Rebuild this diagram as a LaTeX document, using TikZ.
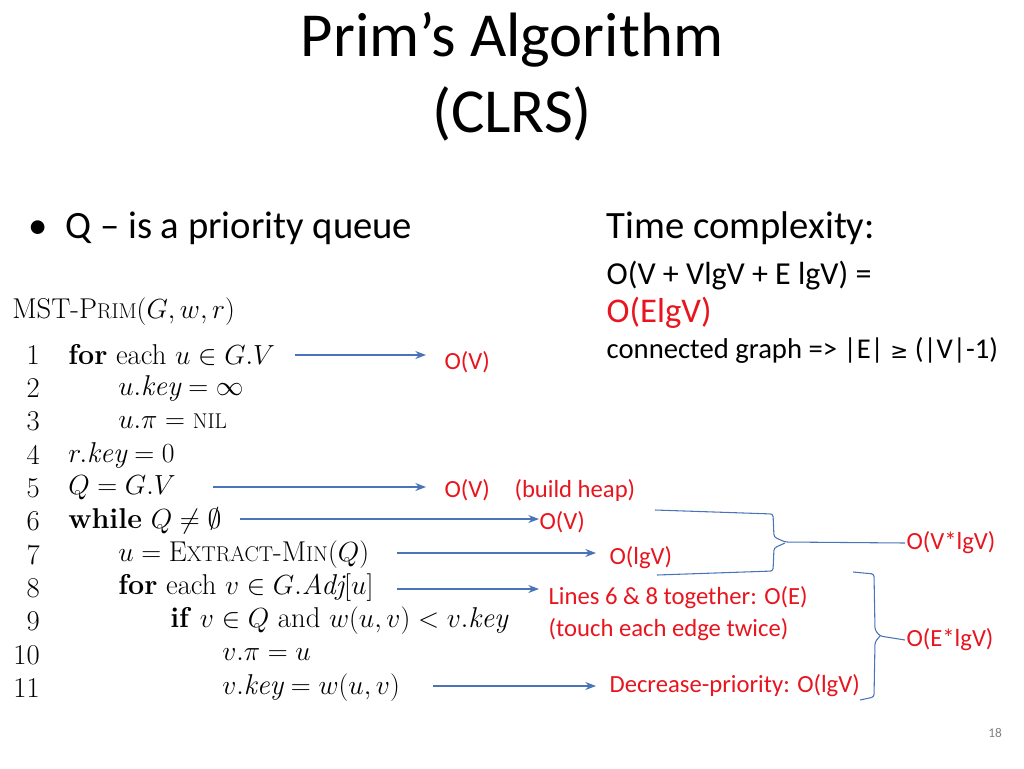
\documentclass[tikz,border=0pt]{standalone}
\usepackage{amssymb}
\usepackage{fontspec}
\setmainfont{Carlito}
\newfontfamily\cm{Latin Modern Roman}
\usetikzlibrary{arrows.meta}
\definecolor{arr}{HTML}{4A74B8}
\definecolor{rd}{HTML}{E8141E}
\tikzset{
 title/.style={font=\fontsize{47}{50}\selectfont,anchor=center},
 big/.style={font=\fontsize{29}{32}\selectfont,anchor=west},
 mid/.style={font=\fontsize{24}{28}\selectfont,anchor=west},
 lbl/.style={font=\fontsize{18.5}{22}\selectfont,text=rd,anchor=west,inner sep=1pt},
 code/.style={font=\fontsize{21.5}{24}\selectfont,anchor=west,inner sep=0pt},
 num/.style={font=\fontsize{21.5}{24}\selectfont,anchor=east,inner sep=0pt},
 ar/.style={draw=arr,line width=0.9pt,-{Stealth[length=8pt,width=6pt]}},
 br/.style={draw=arr,line width=0.8pt,rounded corners=2pt},
}
\newcommand{\kw}[1]{\textbf{#1}}
\newcommand{\itx}[1]{\mbox{\cm\itshape #1}}
\newcommand{\fsc}[1]{{\fontsize{16}{18}\selectfont #1}}
\begin{document}
\begin{tikzpicture}[x=0.75pt,y=-0.75pt]
\useasboundingbox (0,0) rectangle (1024,768);
\node[title] (t1) at (512,40) {Prim’s Algorithm};
\node[title] (t2) at (512,114) {(CLRS)};
\node[big] (q) at (24,228) {\textbullet\ \ Q – is a priority queue};
\node[big] (tc) at (602,228) {Time complexity:};
\node[mid] (f1) at (602,276) {O(V + VlgV + E lgV) =};
\node[mid,text=rd,font=\fontsize{26}{30}\selectfont] (f2) at (602,313) {O(ElgV)};
\node[mid,font=\fontsize{21.5}{24}\selectfont] (f3) at (602,350) {connected graph => |E| {\fontspec{DejaVu Sans}\fontsize{16}{18}\selectfont ≥} (|V|-1)};
% code
\node[code] (hd) at (12,312) {\cm\mbox{MST-P\fsc{RIM}}$(G,w,r)$};
\foreach \n/\y in {1/355,2/388,3/421,4/455,5/488,6/521,7/555,8/588,9/621,10/655,11/688}
  \node[num] (n\n) at (40,\y) {\cm\n};
\node[code] (c1) at (68,355) {\cm\kw{for} each $u\in G.V$};
\node[code] (c2) at (118,388) {\cm$u.\itx{key}=\infty$};
\node[code] (c3) at (118,421) {\cm$u.\pi=\mbox{\cm\fsc{NIL}}$};
\node[code] (c4) at (68,455) {\cm$r.\itx{key}=0$};
\node[code] (c5) at (68,488) {\cm$Q=G.V$};
\node[code] (c6) at (68,521) {\cm\kw{while} $Q\neq\emptyset$};
\node[code] (c7) at (118,555) {\cm$u=\mbox{\cm E\fsc{XTRACT}-M\fsc{IN}}(Q)$};
\node[code] (c8) at (118,588) {\cm\kw{for} each $v\in G.\itx{Adj}[u]$};
\node[code] (c9) at (170,621) {\cm\kw{if} $v\in Q$ and $w(u,v)<v.\itx{key}$};
\node[code] (c10) at (222,655) {\cm$v.\pi=u$};
\node[code] (c11) at (222,688) {\cm$v.\itx{key}=w(u,v)$};
% labels
\node[lbl] (l1) at (443,362) {O(V)};
\node[lbl] (l5) at (443,490) {O(V)\quad(build heap)};
\node[lbl] (l6) at (538,522) {O(V)};
\node[lbl] (l7) at (608,558) {O(lgV)};
\node[lbl,align=left] (l8) at (547,614) {Lines 6 \& 8 together: O(E)\\[2pt](touch each edge twice)};
\node[lbl] (l11) at (608,686) {Decrease-priority: O(lgV)};
\node[lbl] (lv) at (905,543) {O(V*lgV)};
\node[lbl] (le) at (905,640) {O(E*lgV)};
% arrows
\coordinate (s1) at (295,355); \coordinate (e1) at (426,355);
\coordinate (s5) at (213,487); \coordinate (e5) at (426,487);
\coordinate (s6) at (240,519); \coordinate (e6) at (539,519);
\coordinate (s7) at (397,553); \coordinate (e7) at (596,553);
\coordinate (s8) at (397,589); \coordinate (e8) at (539,589);
\coordinate (s11) at (433,686); \coordinate (e11) at (596,686);
\foreach \i in {1,5,6,7,8,11} \draw[ar] (s\i) -- (e\i);
% braces
\draw[br] (655,510) -- (773,514) -- (774,537) -- (785,542) -- (lv.west);
\draw[br] (657,575) -- (773,571) -- (774,548) -- (785,543);
\draw[br] (853,572) -- (874,574) -- (875,630) -- (880,636) -- (le.west);
\draw[br] (860,700) -- (874,697) -- (875,642) -- (880,636);
\node[font=\fontsize{10}{12}\selectfont,text=gray] (pg) at (995,733) {18};
\end{tikzpicture}
\end{document}
